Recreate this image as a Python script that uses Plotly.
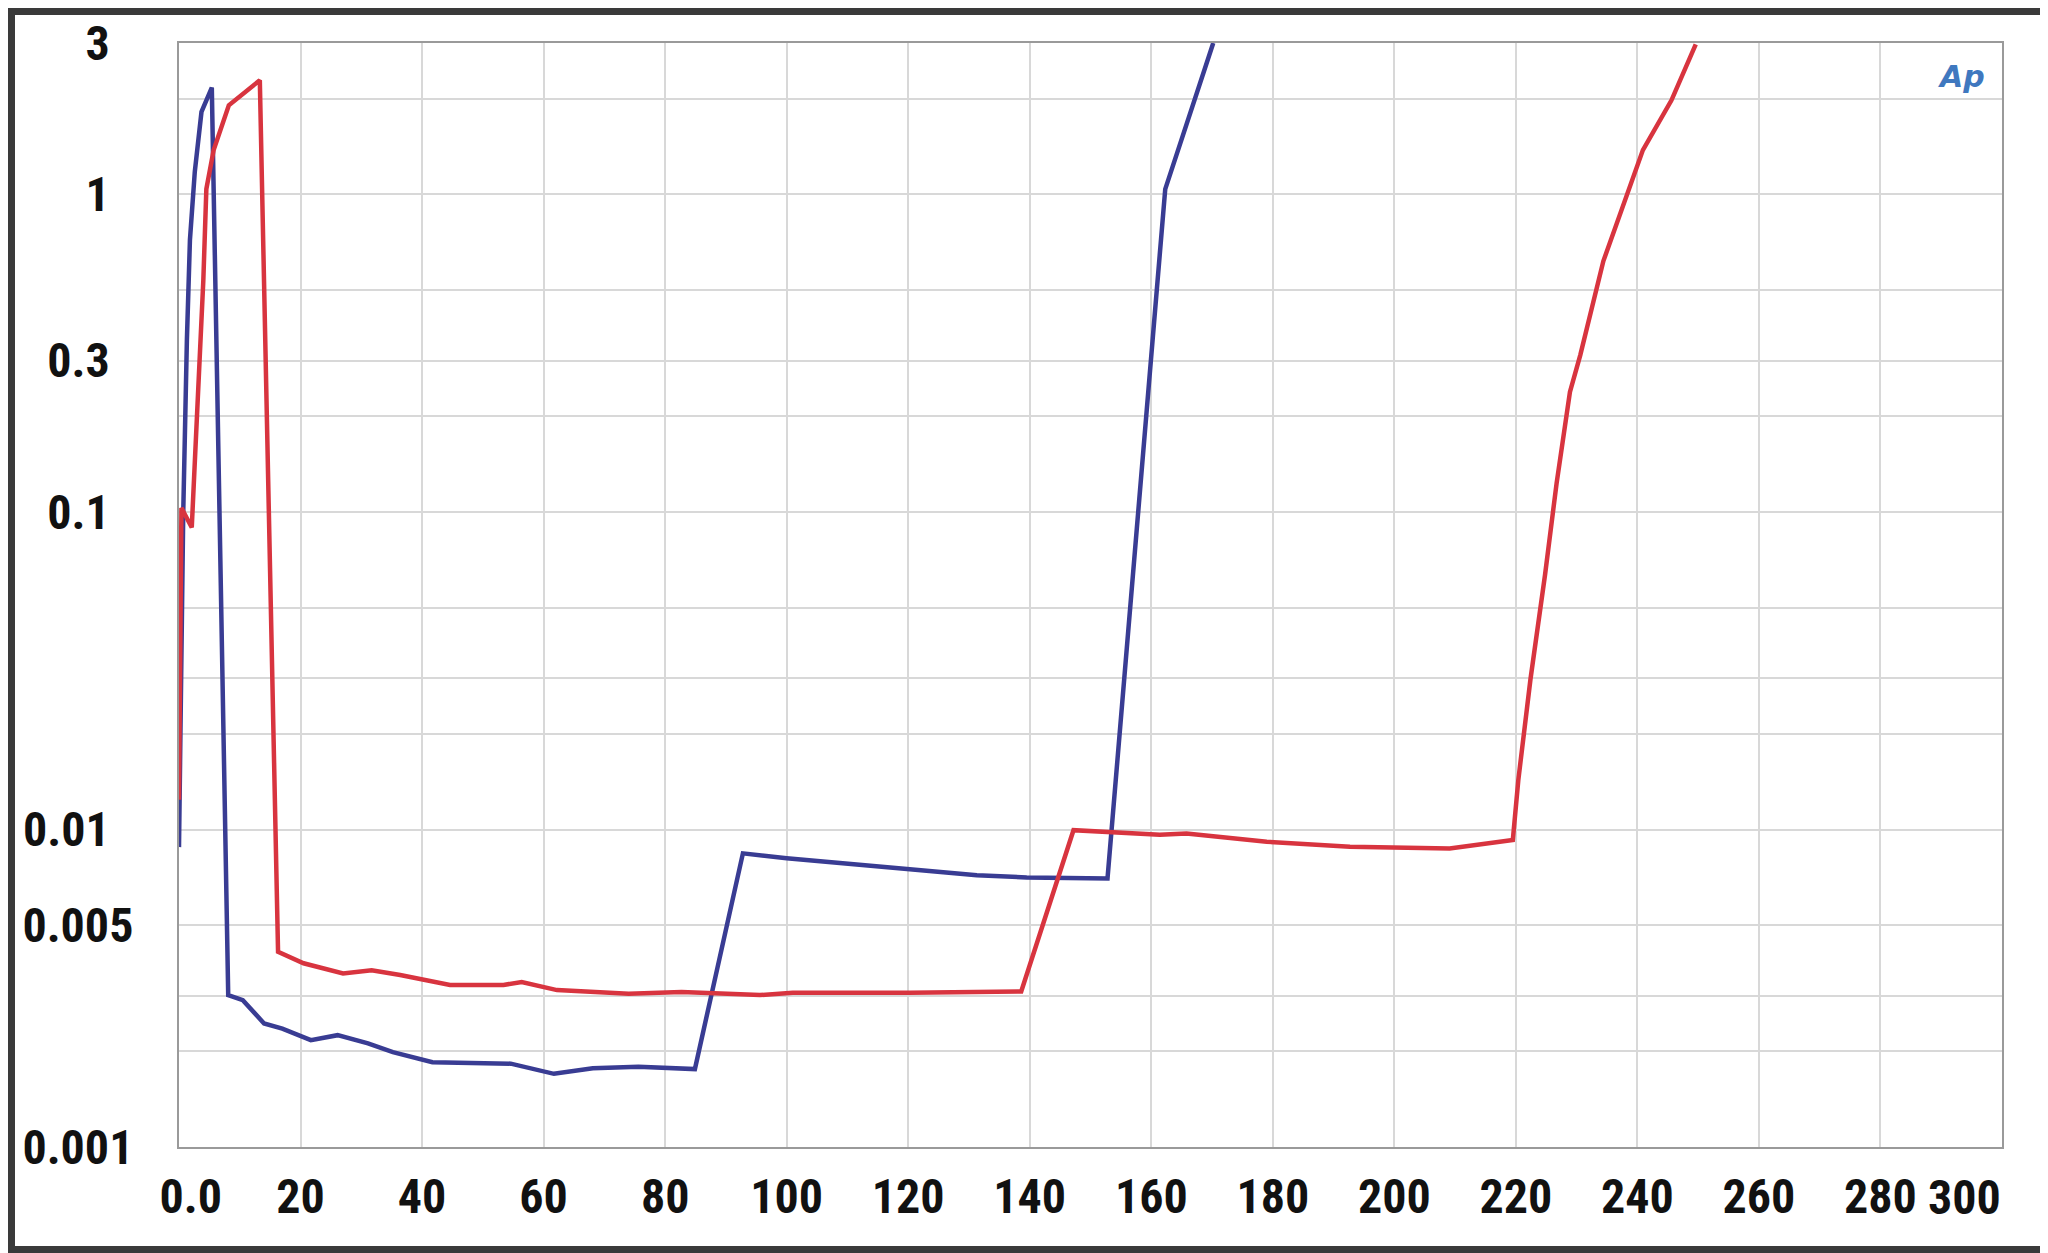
import math
import plotly.graph_objects as go

# ---- data ----
blue_x = [0.0, 0.7, 1.3, 1.8, 2.6, 3.7, 5.4, 8.1, 10.5, 14.0, 17.0, 21.7, 26.1, 31.1, 35.2, 41.7,
          54.6, 61.7, 68.1, 75.6, 84.9, 92.8, 100.0, 120.3, 131.3, 139.5, 152.8, 162.3, 170.2]
blue_y = [0.0088, 0.100, 0.349, 0.72, 1.18, 1.82, 2.17, 0.00301, 0.00290, 0.00245, 0.00236, 0.00217,
          0.00225, 0.00212, 0.00199, 0.00185, 0.00183, 0.00170, 0.00177, 0.00179, 0.00176, 0.00841,
          0.00812, 0.00746, 0.00718, 0.00706, 0.00701, 1.04, 3.0]

red_x = [0.0, 0.4, 2.1, 3.2, 4.0, 4.5, 5.7, 8.2, 13.3, 16.3, 20.5, 27.0, 31.7, 36.4, 44.6, 53.4,
         56.4, 62.2, 74.0, 82.7, 95.6, 101.0, 120.3, 138.6, 147.2, 161.4, 165.8, 179.0, 192.7,
         209.1, 219.5, 220.4, 222.4, 224.8, 226.7, 228.9, 230.6, 234.4, 237.9, 240.9, 245.6, 249.6]
red_y = [0.0124, 0.103, 0.0894, 0.239, 0.535, 1.04, 1.38, 1.91, 2.29, 0.00412, 0.00379, 0.00352,
         0.00360, 0.00348, 0.00324, 0.00324, 0.00331, 0.00312, 0.00304, 0.00308, 0.00301, 0.00306,
         0.00306, 0.00309, 0.00995, 0.00963, 0.00972, 0.00915, 0.00883, 0.00872, 0.00927, 0.0143,
         0.0297, 0.0634, 0.123, 0.239, 0.312, 0.617, 0.964, 1.38, 1.98, 2.97]

FS = "\u2007"  # figure space, used only to nudge label alignment
y_tickvals = [0.001, 0.005, 0.01, 0.1, 0.3, 1, 3]
y_ticktext = ["0.001", "0.005", "0.01" + FS, "0.1" + FS, "0.3" + FS, "1" + FS, "3" + FS]
y_minor_vals = [0.002, 0.003, 0.02, 0.03, 0.05, 0.2, 0.5, 2]
x_tickvals = list(range(0, 301, 20))
x_last_label = "300"
x_ticktext = [FS + "0.0"] + [str(v) for v in x_tickvals[1:-1]] + [""]

BLUE = "#393c93"
RED = "#d8343f"
GRID = "#d8d8d8"
FONT = "Liberation Sans Narrow, Arial Narrow, Roboto Condensed, DejaVu Sans Condensed, sans-serif"
TICKFONT = dict(family=FONT, size=48, color="#111111", weight="bold")

# page body adds an 8px offset; the figure is sized so the plot lands where the reference has it
W, H = 2040, 1245
ML, MR, MT, MB = 171, 46, 35, 106
PW, PH = W - ML - MR, H - MT - MB

fig = go.Figure()
fig.add_trace(go.Scatter(x=blue_x, y=blue_y, mode="lines",
                         line=dict(color=BLUE, width=4.5), hoverinfo="skip"))
fig.add_trace(go.Scatter(x=red_x, y=red_y, mode="lines",
                         line=dict(color=RED, width=4.5), hoverinfo="skip"))

fig.update_layout(
    width=W, height=H,
    margin=dict(l=ML, r=MR, t=MT, b=MB, autoexpand=False),
    paper_bgcolor="white", plot_bgcolor="white",
    showlegend=False,
    font=dict(family=FONT, size=48, color="#111111"),
)

fig.update_xaxes(
    range=[0, 300], tickvals=x_tickvals, ticktext=x_ticktext,
    showgrid=True, gridcolor=GRID, gridwidth=1.5,
    showline=True, linecolor="#9a9a9a", linewidth=2, mirror=True,
    ticks="", ticklabelstandoff=6, zeroline=False, automargin=False,
    ticklabeloverflow="allow",
    tickfont=TICKFONT,
)
fig.update_yaxes(
    type="log", range=[-3, math.log10(3)],
    tickvals=y_tickvals, ticktext=y_ticktext,
    showgrid=True, gridcolor=GRID, gridwidth=1.5,
    minor=dict(tickvals=y_minor_vals, showgrid=True, gridcolor=GRID, gridwidth=1.5, ticks=""),
    showline=True, linecolor="#9a9a9a", linewidth=2, mirror=True,
    ticks="", ticklabelstandoff=34, zeroline=False, automargin=False,
    ticklabeloverflow="allow",
    tickfont=TICKFONT,
)

# last x label, right-aligned to its gridline as in the reference
fig.add_annotation(xref="x", yref="paper", x=x_tickvals[-1], y=0, xanchor="right", yanchor="top",
                   yshift=-21, text="<b>" + x_last_label + "</b>", showarrow=False, borderpad=0,
                   font=dict(family=FONT, size=48, color="#111111"))

# outer frame of the picture
fig.add_shape(type="rect", xref="paper", yref="paper",
              x0=-(ML - 3.5) / PW, x1=1 + (MR - 3.5) / PW,
              y0=-(MB - 3.5) / PH, y1=1 + (MT - 3.5) / PH,
              line=dict(color="#3a3a3a", width=7), fillcolor="rgba(0,0,0,0)", layer="above")

# AP logo
fig.add_annotation(xref="paper", yref="paper", x=0.978, y=0.970, xanchor="center", yanchor="middle",
                   text="<i><b>Ap</b></i>", showarrow=False,
                   font=dict(family="DejaVu Sans, sans-serif", size=30, color="#3f78bf"))

fig.write_html("out.html")
